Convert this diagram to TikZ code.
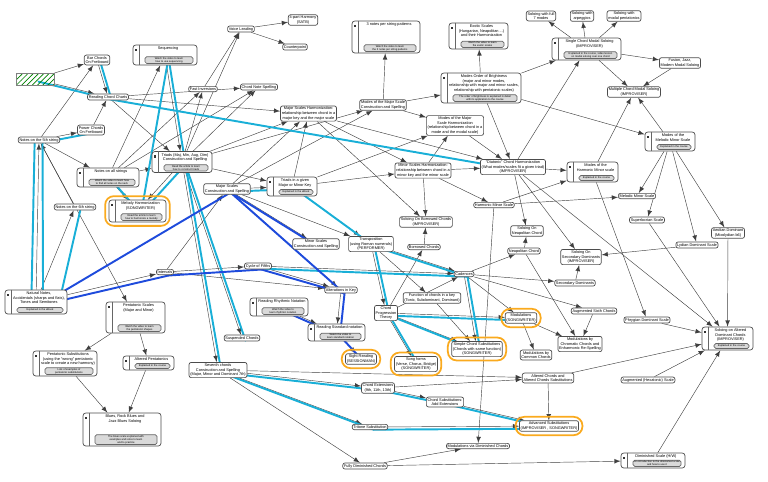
\documentclass[tikz,border=0pt]{standalone}
\usepackage{fontspec}
\setmainfont{Liberation Sans}
\usetikzlibrary{fit,calc,positioning,patterns,arrows}
\pgfdeclarelayer{bg}
\pgfsetlayers{bg,main}
\newcommand{\px}{0.02cm}
\definecolor{hlcyan}{RGB}{25,175,215}
\definecolor{hlblue}{RGB}{30,75,220}
\definecolor{hlorange}{RGB}{250,170,30}
\tikzstyle{topic} = [draw=black!70,rounded corners=1.2pt,fill=white,align=center,inner sep=0.7pt,font=\fontsize{2.2}{2.6}\selectfont]
\tikzstyle{unit} = [draw=black!70,rounded corners=1.6pt,fill=white]
\tikzstyle{txt} = [align=center,inner sep=0.5pt,font=\fontsize{2.2}{2.6}\selectfont]
\tikzstyle{note} = [draw=black!60,fill=black!15,rounded corners=1pt,align=center,inner sep=0.4pt,minimum height=5*\px,font=\fontsize{1.5}{1.7}\selectfont]
\tikzstyle{edge} = [->,>=latex,black!75,line width=0.25pt]
\tikzstyle{hlc} = [hlcyan,line width=1.1pt,line cap=round]
\tikzstyle{hlb} = [hlblue,line width=1.1pt,line cap=round]
\tikzstyle{hlo} = [draw=hlorange,line width=1pt,rounded corners=5pt,inner sep=2pt]
\newcommand{\unitbox}[7]{%
  \node[unit,minimum width=#4*\px,minimum height=#5*\px] (#1) at (#2,#3) {};
  \node[txt,anchor=north] at ([xshift=3*\px,yshift=-1*\px]#1.north) {#6};
  \node[note,anchor=south,minimum width=(#4-16)*\px] at ([xshift=4*\px,yshift=1.5*\px]#1.south) {#7};
  \draw[black!60,line width=0.2pt] ([xshift=7*\px]#1.north west) -- ([xshift=7*\px]#1.south west);
  \fill[black!80] ([xshift=2.5*\px,yshift=-4*\px]#1.north west) rectangle ++(1.5*\px,-2.5*\px);
}
\begin{document}
\begin{tikzpicture}[x=\px,y=-\px]
\useasboundingbox (0,0) rectangle (768,481);

% hatched block
\node (hatch) [draw=black!50,fill=white,pattern=north east lines,pattern color=green!50!black,minimum width=38*\px,minimum height=10*\px] at (35,79) {};

% boxes
\unitbox{nall}{108}{177.5}{62}{19}{Notes on all strings}{Watch the video to learn how\\to find all notes on the neck}
\unitbox{seq}{165}{55}{64}{20}{Sequencing}{Watch the video to learn\\how to use sequencing}
\unitbox{triads}{182}{162}{60}{21}{Triads (Maj, Min, Aug, Dim)\\Construction and Spelling}{Read the article to learn\\how to construct triads}
\unitbox{melody}{137.5}{211}{57}{22}{Melody Harmonization\\(SONGWRITER)}{Read the article to learn\\how to harmonize a melody}
\unitbox{threenps}{386}{37}{68}{32}{3 notes per string patterns}{Watch the video to learn\\the 3 notes per string patterns}
\unitbox{exotic}{478.5}{36}{59}{26}{Exotic Scales\\(Hungarian, Neapolitan ...)\\and their Harmonization}{Watch the video to learn\\the exotic scales}
\unitbox{bright}{481}{88}{80}{30}{Modes Order of Brightness\\(major and minor modes,\\relationship with major and minor scales,\\relationship with pentatonic scales)}{The order of brightness is explained in detail\\with its application to the course}
\unitbox{tkey}{292}{186.5}{50}{19}{Triads in a given\\Major or Minor Key}{Explained in the eBook}
\unitbox{single}{586.5}{49}{69}{22}{Single Chord Modal Soloing\\(IMPROVISER)}{Explained in the course, video lesson\\on modal soloing over one chord}
\unitbox{mmm}{670}{141.5}{50}{19}{Modes of the\\Melodic Minor Scale}{Explained in the course}
\unitbox{mhm}{592.5}{172}{51}{20}{Modes of the\\Harmonic Minor scale}{Explained in the course}
\unitbox{altsolve}{727.5}{338.5}{51}{23}{Soloing on Altered\\Dominant Chords\\(IMPROVISER)}{Explained in the course}
\unitbox{dimscale}{653}{460.5}{64}{15}{Diminished Scale (H/W)}{An introduction to the diminished scale\\and how to use it}
\unitbox{rhythm}{279}{307}{58}{18}{Reading Rhythmic Notation}{Watch the video to\\learn rhythmic notation}
\unitbox{standard}{336.5}{332.5}{57}{17}{Reading Standard notation}{Watch the video to\\learn standard notation}
\unitbox{natural}{36}{302}{62}{24}{Natural Notes,\\Accidentals (sharps and flats),\\Tones and Semitones}{Explained in the eBook}
\unitbox{penta}{135.5}{317.5}{59}{31}{Pentatonic Scales\\(Major and Minor)}{Watch the video to learn\\the pentatonic shapes}
\unitbox{pentasub}{65}{363.5}{64}{25}{Pentatonic Substitutions\\(using the ``wrong'' pentatonic\\scale to create a new harmony)}{Lots of examples of\\pentatonic substitutions}
\unitbox{altpenta}{148.5}{363}{51}{14}{Altered Pentatonics}{Explained in the course}
\unitbox{blues}{122}{429.5}{78}{33}{Blues, Rock Blues and\\Jazz Blues Soloing}{The blues scale explained with\\examples and solos to learn\\and to practice}

% topics
\node (bar) [topic] at (97,60) {Bar Chords\\On Fretboard};
\node (rcc) [topic] at (108,97) {Reading Chord Charts};
\node (power) [topic] at (91,130) {Power Chords\\On Fretboard};
\node (n5) [topic] at (39,140) {Notes on the 5th string};
\node (n6) [topic] at (75,207) {Notes on the 6th string};
\node (fastinv) [topic] at (203,89) {Fast Inversions};
\node (voice) [topic] at (241,29) {Voice Leading};
\node (satb) [topic] at (303,20) {4-part Harmony\\(SATB)};
\node (counter) [topic] at (295,47) {Counterpoint};
\node (cns) [topic] at (259,87) {Chord Note Spelling};
\node (majc) [topic] at (227,189) {Major Scales\\Construction and Spelling};
\node (modesc) [topic] at (383,105) {Modes of the Major Scale\\Construction and Spelling};
\node (majh) [topic] at (308.5,113.5) {Major Scales Harmonization:\\relationship between chord in a\\major key and the major scale};
\node (modesh) [topic] at (455,125.5) {Modes of the Major\\Scale Harmonization\\(relationship between chord in a\\mode and the modal scale)};
\node (minh) [topic] at (423,170.5) {Minor Scales Harmonization:\\relationship between chord in a\\minor key and the minor scale};
\node (borrowsolve) [topic] at (426,222) {Soloing On Borrowed Chords\\(IMPROVISER)};
\node (harmmin) [topic] at (494,205) {Harmonic Minor Scale};
\node (diat) [topic] at (513,167) {``Diatonic'' Chord Harmonization\\(What modes/scales fit a given triad)\\(IMPROVISER)};
\node (sfull) [topic] at (541,16) {Soloing with full\\7 modes};
\node (sarp) [topic] at (582,16) {Soloing with\\arpeggios};
\node (spent) [topic] at (624,16) {Soloing with\\modal pentatonics};
\node (fusion) [topic] at (680,63) {Fusion, Jazz,\\Modern Modal Soloing};
\node (multi) [topic] at (634,92) {Multiple Chord Modal Soloing\\(IMPROVISER)};
\node (melmin) [topic] at (637,196) {Melodic Minor Scale};
\node (superl) [topic] at (647,220) {Superlocrian Scale};
\node (aeolian) [topic] at (728,233) {Aeolian Dominant\\(Mixolydian b6)};
\node (lydian) [topic] at (697,245) {Lydian Dominant Scale};
\node (secsolve) [topic] at (581,257) {Soloing On\\Secondary Dominants\\(IMPROVISER)};
\node (neap) [topic] at (524,251) {Neapolitan Chord};
\node (neapsolve) [topic] at (527,231) {Soloing On\\Neapolitan Chord};
\node (secdom) [topic] at (575,283) {Secondary Dominants};
\node (aug6) [topic] at (594,311) {Augmented Sixth Chords};
\node (phryg) [topic] at (647,320) {Phrygian Dominant Scale};
\node (modul) [topic] at (521,318) {Modulations\\(SONGWRITER)};
\node (modchrom) [topic] at (580,344) {Modulations by\\Chromatic Chords and\\Enharmonic Re-Spelling};
\node (modcommon) [topic] at (536,355) {Modulations by\\Common Chords};
\node (altchords) [topic] at (548,378) {Altered Chords and\\Altered Chords Substitutions};
\node (augscale) [topic] at (648,380) {Augmented (Hexatonic) Scale};
\node (advsub) [topic] at (549,426) {Advanced Substitutions\\(IMPROVISER , SONGWRITER)};
\node (minc) [topic] at (316,244) {Minor Scales\\Construction and Spelling};
\node (transp) [topic] at (371,244) {Transposition\\(using Roman numerals)\\(PERFORMER)};
\node (borrowed) [topic] at (424,247) {Borrowed Chords};
\node (cycle) [topic] at (258,266) {Cycle of Fifths};
\node (cad) [topic] at (464,274) {Cadences};
\node (alter) [topic] at (341,290) {Alterations in Key};
\node (sight) [topic] at (361,359) {Sight Reading\\(SESSIONMAN)};
\node (cprog) [topic] at (386,313) {Chord\\Progression\\Theory};
\node (func) [topic] at (432,298) {Function of chords in a key\\(Tonic, Subdominant, Dominant)};
\node (song) [topic] at (416,364) {Song forms\\(Verse, Chorus, Bridge)\\(SONGWRITER)};
\node (simple) [topic] at (477,349) {Simple Chord Substitutions\\(Chords with same function)\\(SONGWRITER)};
\node (ext) [topic] at (378,388) {Chord Extensions\\(9th, 11th, 13th)};
\node (addext) [topic] at (445,402) {Chord Substitutions:\\Add Extensions};
\node (tritone) [topic] at (370,427) {Tritone Substitution};
\node (moddim) [topic] at (478,446) {Modulations via Diminished Chords};
\node (fulldim) [topic] at (365,466) {Fully Diminished Chords};
\node (intervals) [topic] at (165,272) {Intervals};
\node (susp) [topic] at (242,338) {Suspended Chords};
\node (seventh) [topic] at (218,370) {Seventh chords\\Construction and Spelling\\(Major, Minor and Dominant 7th)};

\begin{pgfonlayer}{bg}
% connectors
\foreach \a/\b in {hatch/bar,hatch/rcc,n5/bar,bar/rcc,power/rcc,n5/power,n5/nall,n6/n5,natural/n5,natural/n6,
  n5/penta,nall/seq,nall/triads,nall/fastinv,nall/cns,nall/melody,rcc/triads,rcc/majh,rcc/cns,seq/triads,
  triads/melody,triads/fastinv,triads/voice,triads/cns,triads/majh,triads/modesc,triads/tkey,triads/susp,triads/seventh,
  fastinv/voice,voice/satb,voice/counter,majc/tkey,majc/minc,majc/modesc,majc/alter,majc/majh,intervals/majc,natural/intervals,
  intervals/cycle,cycle/cad,cycle/alter,tkey/majh,tkey/minh,tkey/transp,tkey/modesh,modesc/threenps,modesc/bright,modesc/modesh,
  bright/exotic,bright/diat,bright/mmm,bright/single,majh/minh,majh/diat,majh/borrowsolve,modesh/diat,minh/modesh,minh/diat,
  minh/harmmin,minh/borrowsolve,diat/single,diat/mhm,diat/neapsolve,diat/secsolve,diat/altsolve,single/sfull,single/sarp,
  single/spent,single/fusion,single/multi,fusion/multi,mmm/multi,mhm/multi,mmm/melmin,mmm/superl,mmm/aeolian,mmm/lydian,
  harmmin/mhm,harmmin/melmin,mhm/phryg,phryg/altsolve,superl/altsolve,aeolian/altsolve,lydian/secsolve,cad/neap,cad/secdom,
  cad/modul,cad/aug6,cad/simple,neap/neapsolve,neap/modchrom,secdom/secsolve,aug6/modchrom,modul/modcommon,modul/modchrom,
  altchords/advsub,altchords/altsolve,augscale/altsolve,dimscale/altsolve,fulldim/moddim,fulldim/dimscale,harmmin/moddim,
  cprog/cad,cprog/borrowed,cprog/song,cprog/simple,cprog/modul,transp/cad,transp/func,transp/cprog,func/simple,borrowed/borrowsolve,
  seventh/ext,seventh/tritone,seventh/fulldim,seventh/altchords,ext/addext,ext/altchords,addext/advsub,tritone/advsub,
  rhythm/standard,alter/standard,standard/sight,penta/pentasub,penta/altpenta,pentasub/blues,altpenta/blues,majc/transp,intervals/alter}
  \draw[edge] (\a) -- (\b);

% highlights
\foreach \a/\b in {hatch/rcc,bar/rcc,n5/power,seq/triads,seq/melody,triads/melody,rcc/diat,majc/tkey,tkey/transp,
  cycle/cad,transp/cprog,transp/cad,cad/simple,cprog/simple,cprog/song,cprog/modul,triads/seventh,triads/susp,
  seventh/ext,seventh/tritone,ext/addext,addext/advsub,tritone/advsub,nall/melody}
  \draw[hlc] ([xshift=2pt,yshift=-1.5pt]\a.center) -- ([xshift=2pt,yshift=-1.5pt]\b.center);
\draw[hlc] ([xshift=-2.5pt]n5.south) -- ([xshift=-2.5pt]natural.north);
\draw[hlc] ([xshift=2pt]n5.south) -- ([xshift=4pt]natural.north);
\draw[hlc] ([xshift=3pt]n6.south) -- ([xshift=-3pt]natural.north east);
\foreach \a/\b in {natural/majc,natural/intervals,majc/minc,majc/alter,cycle/alter,alter/standard,rhythm/standard,standard/sight,intervals/cycle}
  \draw[hlb] ([xshift=2pt,yshift=-2pt]\a.center) -- ([xshift=2pt,yshift=-2pt]\b.center);
\end{pgfonlayer}

% circled goals
\foreach \n in {melody,sight,song,simple,modul,advsub}
  \node[hlo,fit=(\n)] {};
\end{tikzpicture}
\end{document}
